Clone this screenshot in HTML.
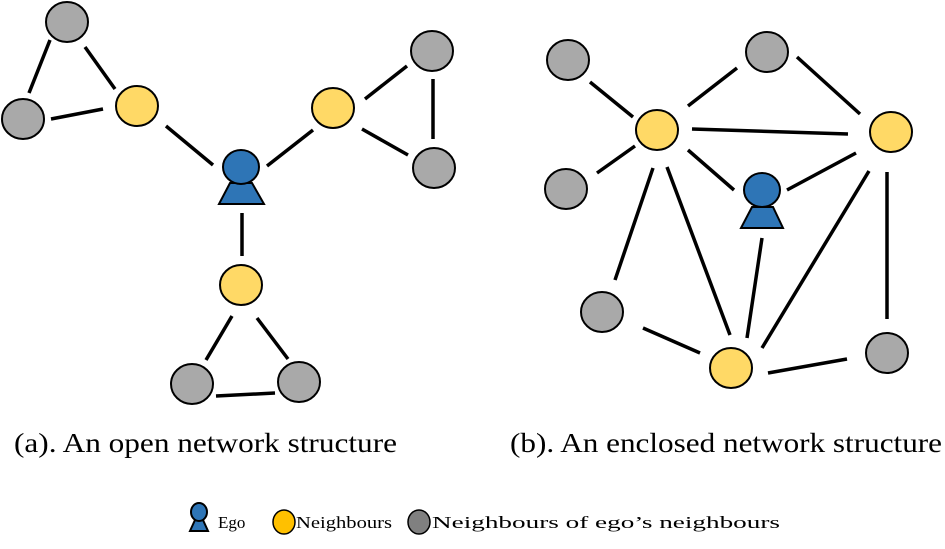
<!DOCTYPE html>
<html><head><meta charset="utf-8"><style>body{margin:0;background:#fff}svg{display:block}</style></head>
<body>
<svg width="945" height="549" viewBox="0 0 945 549" xmlns="http://www.w3.org/2000/svg">
<g stroke="#000" stroke-width="3.5" stroke-linecap="butt">
<line x1="50" y1="40" x2="29" y2="93"/>
<line x1="85" y1="47" x2="115" y2="89"/>
<line x1="51" y1="119" x2="103" y2="109"/>
<line x1="166" y1="126" x2="213" y2="165"/>
<line x1="267" y1="166" x2="313" y2="130"/>
<line x1="365" y1="99" x2="407" y2="66"/>
<line x1="433" y1="79" x2="433" y2="139"/>
<line x1="362" y1="129" x2="408" y2="155"/>
<line x1="242" y1="213" x2="242" y2="256"/>
<line x1="232" y1="316" x2="206" y2="360"/>
<line x1="257" y1="318" x2="288" y2="359"/>
<line x1="216" y1="396" x2="275" y2="393"/>
<line x1="590" y1="82" x2="633" y2="117"/>
<line x1="688" y1="106" x2="737" y2="68"/>
<line x1="797" y1="57" x2="860" y2="114"/>
<line x1="692" y1="129" x2="848" y2="134"/>
<line x1="597" y1="173" x2="635" y2="146"/>
<line x1="688" y1="150" x2="734" y2="190"/>
<line x1="787" y1="190" x2="856" y2="153"/>
<line x1="653" y1="168" x2="615" y2="280"/>
<line x1="667" y1="167" x2="730" y2="335"/>
<line x1="762" y1="238" x2="747" y2="338"/>
<line x1="869" y1="171" x2="762" y2="348"/>
<line x1="887" y1="172" x2="887" y2="319"/>
<line x1="643" y1="328" x2="700" y2="353"/>
<line x1="768" y1="373" x2="847" y2="359"/>
</g>
<g stroke="#000" stroke-width="2">
<g fill="#A9A9A9">
<ellipse cx="67" cy="22" rx="21" ry="20"/>
<ellipse cx="23" cy="119" rx="21" ry="20"/>
<ellipse cx="432" cy="51" rx="21" ry="20"/>
<ellipse cx="434" cy="168" rx="21" ry="20"/>
<ellipse cx="192" cy="384" rx="21" ry="20"/>
<ellipse cx="299" cy="382" rx="21" ry="20"/>
<ellipse cx="568" cy="60" rx="21" ry="20"/>
<ellipse cx="767" cy="52" rx="21" ry="20"/>
<ellipse cx="566" cy="189" rx="21" ry="20"/>
<ellipse cx="602" cy="312" rx="21" ry="20"/>
<ellipse cx="887" cy="353" rx="21" ry="20"/>
</g>
<g fill="#FFD966">
<ellipse cx="137" cy="106" rx="21" ry="20"/>
<ellipse cx="333" cy="108" rx="21" ry="20"/>
<ellipse cx="241" cy="285" rx="21" ry="20"/>
<ellipse cx="657" cy="130" rx="21" ry="20"/>
<ellipse cx="891" cy="132" rx="21" ry="20"/>
<ellipse cx="731" cy="368" rx="21" ry="20"/>
</g>
<g fill="#2E75B6">
<polygon points="230,183 252,183 264,204 219,204"/>
<ellipse cx="241" cy="167" rx="18" ry="17"/>
<polygon points="752,207 773,207 783,228 741,228"/>
<ellipse cx="762" cy="190" rx="18" ry="17"/>
<polygon points="195,520 203,520 208,531 190,531"/>
<ellipse cx="199" cy="512" rx="8" ry="9"/>
</g>
<ellipse cx="284" cy="522" rx="11" ry="12" fill="#FFC000" stroke-width="1.5"/>
<ellipse cx="419" cy="522" rx="11" ry="12" fill="#808080" stroke-width="1.5"/>
</g>
<g font-family="Liberation Serif, serif" fill="#000">
<text x="14" y="452" font-size="27" textLength="383" lengthAdjust="spacingAndGlyphs">(a). An open network structure</text>
<text x="510" y="452" font-size="27" textLength="432" lengthAdjust="spacingAndGlyphs">(b). An enclosed network structure</text>
<text x="218" y="528" font-size="17">Ego</text>
<text x="296" y="528" font-size="17" textLength="96" lengthAdjust="spacingAndGlyphs">Neighbours</text>
<text x="432" y="528" font-size="17" textLength="348" lengthAdjust="spacingAndGlyphs">Neighbours  of ego’s neighbours</text>
</g>
</svg>
</body></html>
